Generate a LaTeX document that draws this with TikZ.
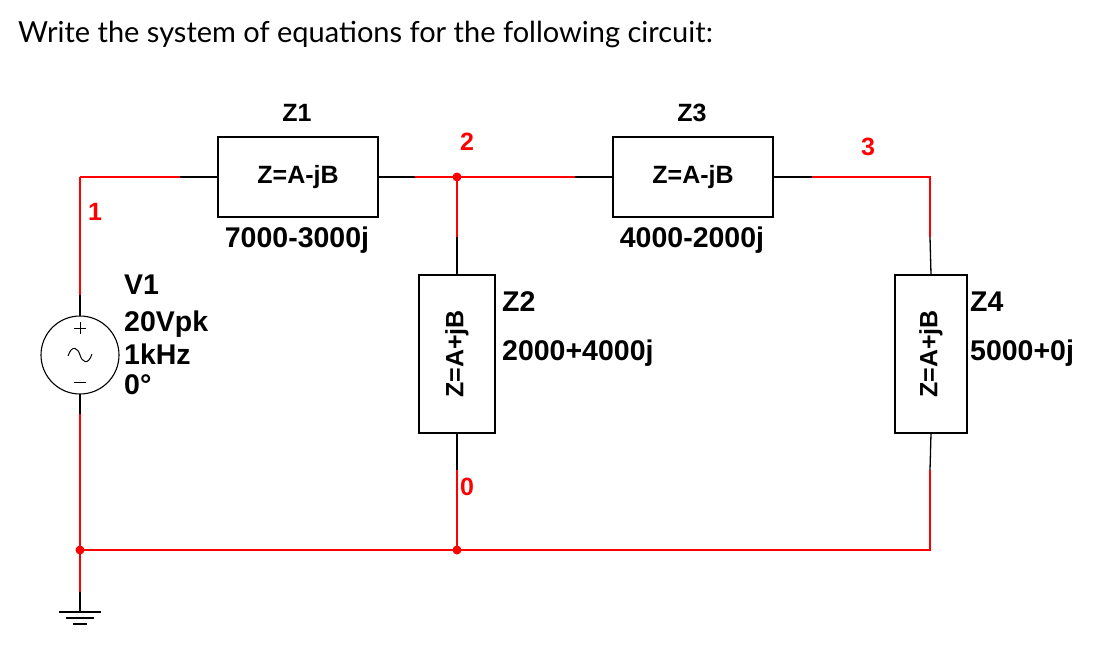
\documentclass[tikz,border=0pt]{standalone}
\usepackage{fontspec}
\setmainfont{Liberation Sans}
\newfontfamily\latofont{Lato}
\begin{document}
\begin{tikzpicture}[x=1pt,y=-1pt,
  rw/.style={draw=red,line width=1.3pt},
  bw/.style={draw=black,line width=1.3pt},
  box/.style={draw,line width=1.3pt,fill=white},
  lbl/.style={font=\bfseries\fontsize{25}{27}\selectfont,inner sep=0pt},
  vlbl/.style={font=\bfseries\fontsize{28.5}{30}\selectfont,inner sep=0pt},
  nlbl/.style={lbl,text=red},
  dot/.style={circle,fill=red,inner sep=0pt,minimum size=9pt}]
\useasboundingbox (0,0) rectangle (1096,646);
\node[anchor=west,inner sep=0pt,font=\latofont\fontsize{29}{31}\selectfont] (title) at (18,34) {Write the system of equations for the following circuit:};
% coordinates
\coordinate (tl) at (80,177);
\coordinate (n2) at (457,177);
\coordinate (tr) at (930,177);
\coordinate (bl) at (80,550);
\coordinate (n0) at (457,550);
\coordinate (br) at (930,550);
% boxes
\node[box,minimum width=160pt,minimum height=80pt] (z1) at (298,177) {};
\node[box,minimum width=160pt,minimum height=80pt] (z3) at (693,177) {};
\node[box,minimum width=76pt,minimum height=158pt] (z2) at (457,354) {};
\node[box,minimum width=72pt,minimum height=158pt] (z4) at (931,354) {};
% wires
\draw[rw] (tl) -- (180,177);
\draw[bw] (180,177) -- (z1.west);
\draw[bw] (z1.east) -- (415,177);
\draw[rw] (415,177) -- (n2) -- (575,177);
\draw[bw] (575,177) -- (z3.west);
\draw[bw] (z3.east) -- (812,177);
\draw[rw] (812,177) -- (tr) -- (930,237);
\draw[bw] (930,237) -- (z4.north);
\draw[bw] (z4.south) -- (930,470);
\draw[rw] (930,470) -- (br) -- (bl);
\draw[rw] (n2) -- (457,237);
\draw[bw] (457,237) -- (z2.north);
\draw[bw] (z2.south) -- (457,470);
\draw[rw] (457,470) -- (n0);
\draw[rw] (tl) -- (80,295);
\draw[bw] (80,295) -- (80,316);
\node[draw,circle,line width=1.1pt,minimum size=78pt,inner sep=0pt] (v1) at (80,355) {};
\draw[bw] (80,394) -- (80,414);
\draw[rw] (80,414) -- (bl) -- (80,592);
\draw[bw] (80,592) -- (80,612);
\coordinate (g) at (80,612);
\draw[line width=1.2pt] (59,612) -- (101,612) (66,618) -- (94,618) (73,624) -- (87,624);
% source symbols
\draw[line width=1pt] (80,322) -- (80,334) (74,328) -- (86,328) (74,382) -- (86,382);
\draw[line width=1pt] (68,356) .. controls (72,344) and (78,348) .. (80,355) .. controls (82,362) and (88,366) .. (92,354);
\node[dot] (d2) at (n2) {};
\node[dot] (d0) at (n0) {};
\node[dot] (d1) at (bl) {};
% labels
\node[lbl] (z1n) at (297,113) {Z1};
\node[lbl] at (z1) {Z=A-jB};
\node[vlbl] (z1v) at (297,240) {7000-3000j};
\node[lbl] (z3n) at (692,113) {Z3};
\node[lbl] at (z3) {Z=A-jB};
\node[vlbl] (z3v) at (692,240) {4000-2000j};
\node[lbl,rotate=90] at (z2) {Z=A+jB};
\node[lbl,rotate=90] at (z4) {Z=A+jB};
\node[vlbl,anchor=west] (z2n) at (502,302) {Z2};
\node[vlbl,anchor=west] (z2v) at (502,353) {2000+4000j};
\node[vlbl,anchor=west] (z4n) at (970,302) {Z4};
\node[vlbl,anchor=west] (z4v) at (970,353) {5000+0j};
\node[vlbl,anchor=west] (vn) at (124,285) {V1};
\node[vlbl,anchor=west] (va) at (124,324) {20Vpk};
\node[vlbl,anchor=west] (vf) at (124,354) {1kHz};
\node[vlbl,anchor=west] (vp) at (124,385) {0°};
\node[nlbl] (l1) at (95,212) {1};
\node[nlbl] (l2) at (467,142) {2};
\node[nlbl] (l3) at (868,147) {3};
\node[nlbl] (l0) at (467,487) {0};
\end{tikzpicture}
\end{document}
